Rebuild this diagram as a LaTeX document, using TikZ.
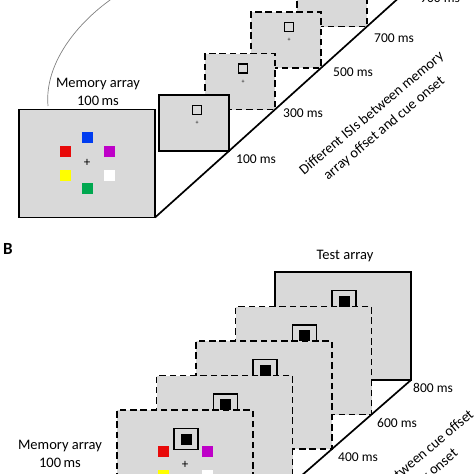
\documentclass[tikz,border=0pt]{standalone}
\usepackage{fontspec}
\setmainfont{Carlito}
\usepackage{tikz}
\usetikzlibrary{arrows}
\usepackage{xcolor}
\definecolor{scrgray}{RGB}{217,217,217}
\definecolor{itemblue}{RGB}{0,60,240}
\definecolor{itemred}{RGB}{232,10,10}
\definecolor{itemmag}{RGB}{190,0,200}
\definecolor{itemyel}{RGB}{255,255,0}
\definecolor{itemgreen}{RGB}{0,168,80}
\tikzset{>=latex}

\begin{document}
\begin{tikzpicture}[x=1pt, y=-1pt]
                % y runs downwards, one unit = one pixel of the figure
                \useasboundingbox (0,0) rectangle (474,474);
                \clip (0,0) rectangle (474,474);
                \tikzstyle{every node}=[inner sep=0pt, outer sep=0pt, font=\fontsize{14.5}{18}\selectfont]
                \tikzstyle{screen}=[rectangle, fill=scrgray, draw=black, line width=1.9pt]
                \tikzstyle{dscreen}=[screen, dash pattern=on 6.5pt off 3.8pt]
                \tikzstyle{bigscr}=[minimum width=136pt, minimum height=108pt]
                \tikzstyle{smallscr}=[minimum width=70pt, minimum height=56pt]
                \tikzstyle{item}=[rectangle, minimum size=11pt]
                \tikzstyle{probe}=[rectangle, draw=black, line width=1.4pt, minimum size=9pt]
                \tikzstyle{frame}=[rectangle, fill=scrgray, draw=black, line width=1.5pt, minimum width=24pt, minimum height=21pt]
                \tikzstyle{target}=[rectangle, fill=black, minimum size=11pt]
                \tikzstyle{fix}=[font=\fontsize{13}{13}\selectfont]
                \tikzstyle{tinyfix}=[font=\fontsize{6}{6}\selectfont]
                \tikzstyle{isi}=[font=\fontsize{13.5}{16}\selectfont]
                \tikzstyle{axis}=[font=\fontsize{14.5}{19.5}\selectfont, align=center, rotate=40]

                % panel A
                \coordinate (arcS) at (48,106);
                \coordinate (arcE) at (122,-8);
                \draw[gray, line width=0.7pt] (arcS) .. controls (44,62) and (80,18) .. (arcE);
                \node[align=center] (memA) at (98,92) {Memory array\\100\,ms};

                \node[screen, bigscr] (MA) at (87,163.5) {};
                \node[item, fill=itemblue] (blueA) at (87,137.5) {};
                \node[item, fill=itemred] (redA) at (65,151) {};
                \node[item, fill=itemmag] (magA) at (109,151) {};
                \node[fix] (fixA) at (87,163) {+};
                \node[item, fill=itemyel] (yelA) at (65,175) {};
                \node[item, fill=white] (whiteA) at (109,175) {};
                \node[item, fill=itemgreen] (greenA) at (87,188.5) {};

                \node[dscreen, smallscr] (S4) at (332,-1.5) {};
                \node[probe] (cue4) at (335,-14.5) {};
                \node[tinyfix] (fix4) at (335,-1.5) {+};
                \node[dscreen, smallscr] (S3) at (286,40) {};
                \node[probe] (cue3) at (289,27) {};
                \node[tinyfix] (fix3) at (289,40) {+};
                \node[dscreen, smallscr] (S2) at (240,81.5) {};
                \node[probe] (cue2) at (243,68.5) {};
                \node[tinyfix] (fix2) at (243,81.5) {+};
                \node[screen, smallscr] (S1) at (194,123) {};
                \node[probe] (cue1) at (197,110) {};
                \node[tinyfix] (fix1) at (197,123) {+};

                \coordinate (endA) at (413,-15);
                \draw[line width=1.7pt] (MA.south east) -- (S1.south east) -- (S2.south east)
                        -- (S3.south east) -- (S4.south east) -- (endA);

                \node[isi] (t100) at (256,159) {100 ms};
                \node[isi] (t300) at (303,113) {300 ms};
                \node[isi] (t500) at (353,72) {500 ms};
                \node[isi] (t700) at (394,38) {700 ms};
                \node[isi] (t900) at (440,-2) {900 ms};
                \node[axis] (isiA) at (378,121) {Different ISIs between memory\\array offset and cue onset};

                % panel B
                \node[font=\fontsize{17}{17}\selectfont\bfseries] (labB) at (8,249) {B};
                \node (testB) at (345,256) {Test array};
                \node[align=center] (memB) at (60,454) {Memory array\\100\,ms};

                \node[screen, bigscr] (T) at (343,326) {};
                \node[frame] (boxT) at (344,301) {};
                \node[target] (dotT) at (344,301) {};
                \node[dscreen, bigscr] (P4) at (303.5,360.5) {};
                \node[frame] (box4) at (304.5,335.5) {};
                \node[target] (dot4) at (304.5,335.5) {};
                \node[dscreen, bigscr] (P3) at (264,395) {};
                \node[frame] (box3) at (265,370) {};
                \node[target] (dot3) at (265,370) {};
                \node[dscreen, bigscr] (P2) at (224.5,429.5) {};
                \node[frame] (box2) at (225.5,404.5) {};
                \node[target] (dot2) at (225.5,404.5) {};
                \node[dscreen, bigscr] (P1) at (185,464) {};
                \node[frame] (box1) at (186,439) {};
                \node[target] (dot1) at (186,439) {};
                \node[item, fill=itemred] (redB) at (163,451) {};
                \node[item, fill=itemmag] (magB) at (207,451) {};
                \node[fix] (fixB) at (185,465) {+};
                \node[item, fill=itemyel] (yelB) at (163,475) {};
                \node[item, fill=white] (whiteB) at (207,475) {};

                \draw[line width=1.7pt] (P1.south east) -- (P2.south east) -- (P3.south east)
                        -- (P4.south east) -- (T.south east);

                \node[isi] (t800) at (433,388) {800 ms};
                \node[isi] (t600) at (397,423) {600 ms};
                \node[isi] (t400) at (358,457) {400 ms};
                \node[axis] (isiB) at (405,482) {Different ISIs between cue offset\\and test array onset};
\end{tikzpicture}
\end{document}
